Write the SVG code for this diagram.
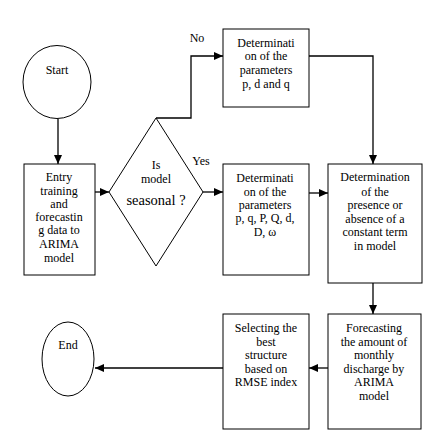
<svg xmlns="http://www.w3.org/2000/svg" width="430" height="441" viewBox="0 0 430 441">
<style>
.s{fill:#fff;stroke:#000;stroke-width:1}
.c{fill:none;stroke:#000;stroke-width:1.3}
text{font-family:'Liberation Serif',serif;font-size:12px;fill:#000;text-anchor:middle}
.big{font-size:14.5px}
</style>
<defs>
<marker id="a" markerWidth="9" markerHeight="8" refX="9" refY="4" orient="auto" markerUnits="userSpaceOnUse">
<path d="M0,0 L9,4 L0,8 Z" fill="#000"/>
</marker>
</defs>
<rect width="430" height="441" fill="#fff"/>
<g id="connectors">
<path class="c" d="M58,119 V164" marker-end="url(#a)"/>
<path class="c" d="M95,192 H109" marker-end="url(#a)"/>
<path class="c" d="M156,118 H191 V56 H223" marker-end="url(#a)"/>
<path class="c" d="M203,192 H223" marker-end="url(#a)"/>
<path class="c" d="M309,56 H373 V164" marker-end="url(#a)"/>
<path class="c" d="M309,193 H328" marker-end="url(#a)"/>
<path class="c" d="M373,283 V314" marker-end="url(#a)"/>
<path class="c" d="M328,368 H309" marker-end="url(#a)"/>
<path class="c" d="M223,368 H95" marker-end="url(#a)"/>
<text x="197" y="42">No</text>
<text x="201" y="165">Yes</text>
</g>
<g id="start">
<ellipse class="s" cx="57" cy="82" rx="34" ry="36.5"/>
<text x="57" y="74">Start</text>
</g>
<g id="entry">
<rect class="s" x="24" y="164" width="71" height="111"/>
<text x="59" y="181">Entry</text>
<text x="59" y="195">training</text>
<text x="59" y="208">and</text>
<text x="59" y="221">forecastin</text>
<text x="59" y="234">g data to</text>
<text x="59" y="248">ARIMA</text>
<text x="59" y="262">model</text>
</g>
<g id="decision">
<polygon class="s" points="156,118 203,192 156,266 109,192"/>
<text x="156" y="169">Is</text>
<text x="156" y="183">model</text>
<text x="156" y="205" class="big">seasonal ?</text>
</g>
<g id="box-pdq">
<rect class="s" x="223" y="29" width="86" height="78"/>
<text x="266" y="47">Determinati</text>
<text x="266" y="60">on of the</text>
<text x="266" y="74">parameters</text>
<text x="266" y="88">p, d and q</text>
</g>
<g id="box-seasonal">
<rect class="s" x="223" y="164" width="86" height="111"/>
<text x="265" y="182">Determinati</text>
<text x="265" y="196">on of the</text>
<text x="265" y="209">parameters</text>
<text x="265" y="222">p, q, P, Q, d,</text>
<text x="265" y="236">D, ω</text>
</g>
<g id="box-constant">
<rect class="s" x="328" y="164" width="94" height="119"/>
<text x="375" y="181">Determination</text>
<text x="375" y="196">of the</text>
<text x="375" y="209">presence or</text>
<text x="375" y="223">absence of a</text>
<text x="375" y="236">constant term</text>
<text x="375" y="250">in model</text>
</g>
<g id="box-forecast">
<rect class="s" x="328" y="314" width="93" height="115"/>
<text x="374" y="332">Forecasting</text>
<text x="374" y="346">the amount of</text>
<text x="374" y="359">monthly</text>
<text x="374" y="373">discharge by</text>
<text x="374" y="386">ARIMA</text>
<text x="374" y="400">model</text>
</g>
<g id="box-select">
<rect class="s" x="223" y="314" width="86" height="115"/>
<text x="266" y="332">Selecting the</text>
<text x="266" y="346">best</text>
<text x="266" y="359">structure</text>
<text x="266" y="373">based on</text>
<text x="266" y="386">RMSE index</text>
</g>
<g id="end">
<ellipse class="s" cx="68" cy="359" rx="26" ry="37"/>
<text x="68" y="349">End</text>
</g>
</svg>
